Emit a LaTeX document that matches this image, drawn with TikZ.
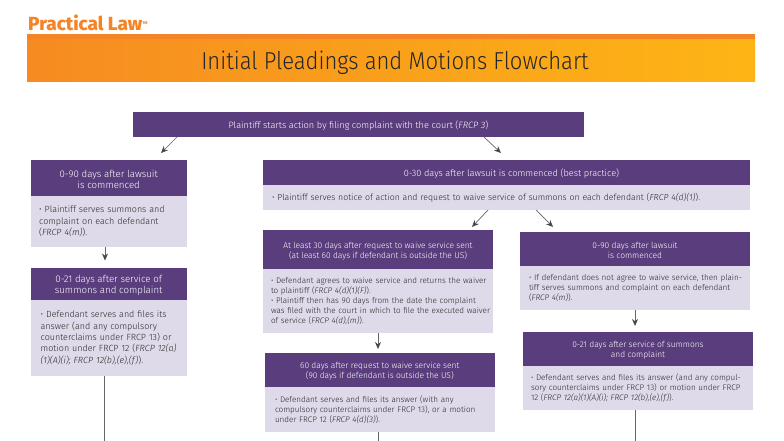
\documentclass[tikz,border=0pt]{standalone}
\usepackage{fontspec}
\setmainfont{Fira Sans}[UprightFont=* Light,ItalicFont=* Light Italic,BoldFont=* ExtraBold]
\newfontfamily\titlefont{Fira Sans Light}[FakeStretch=0.9]
\definecolor{plum}{HTML}{5A3D7D}
\definecolor{lilac}{HTML}{DEDAE9}
\definecolor{orangeL}{HTML}{F68B21}
\definecolor{orangeR}{HTML}{FDB515}
\definecolor{stripe}{HTML}{F58426}
\definecolor{ink}{HTML}{262626}
\definecolor{conn}{HTML}{666666}
\newcommand{\tl}[1]{\mbox{#1}}
\newcommand{\hs}{\rule{0pt}{9.5pt}}
\usetikzlibrary{arrows.meta}
\tikzset{
  x=1pt,y=-1pt,
  headbox/.style={fill=plum,text=white,anchor=north west,align=center,inner sep=0pt,outer sep=0pt},
  bodybox/.style={fill=lilac,text=ink,anchor=north west,align=left,inner ysep=0pt,outer sep=0pt},
  smallt/.style={font=\fontsize{8.4}{10}\selectfont},
  bodyt/.style={font=\fontsize{8.1}{10}\selectfont},
  widet/.style={font=\fontsize{9.2}{11}\selectfont},
  bigt/.style={font=\fontsize{8.95}{11.4}\selectfont},
  bighead/.style={font=\fontsize{9.7}{11}\selectfont},
  arrowline/.style={draw=conn,line width=0.7pt,-{Stealth[length=7pt,width=6pt,color=ink!85!white]}},
  plainline/.style={draw=conn,line width=0.9pt},
}
\begin{document}
\begin{tikzpicture}
\useasboundingbox (0,0) rectangle (784,441);
% header
\node[anchor=west,inner sep=0pt,text=stripe,font=\fontsize{19}{19}\selectfont\bfseries] (logo) at (28,23) {Practical Law\raisebox{6pt}{\fontsize{4}{4}\selectfont TM}};
\node[anchor=north west,minimum width=728pt,minimum height=47pt,inner sep=0pt,left color=orangeL,right color=orangeR] (banner) at (27,34) {};
\fill[stripe] (27,34) rectangle (755,39.5);
\node[text=ink,inner sep=0pt,font=\fontsize{24.5}{26}\titlefont] (title) at (395,63) {Initial Pleadings and Motions Flowchart};
% top
\node[headbox,widet,minimum width=451pt,minimum height=25pt] (start) at (133,112) {\hs Plaintiff starts action by filing complaint with the court (\textit{FRCP 3})};
% left column
\node[headbox,bighead,minimum width=156pt,minimum height=36pt] (ah) at (30.7,160) {\hs 0-90 days after lawsuit\\is commenced};
\node[bodybox,bigt,inner xsep=8.5pt,text width=139pt,minimum height=51pt] (ab) at (30.7,196) {\tl{\textbullet\ Plaintiff serves summons and}\\\tl{complaint on each defendant}\\\tl{(\textit{FRCP 4(m)}).}};
\node[headbox,bighead,minimum width=156pt,minimum height=32pt] (bh) at (30.7,268) {\hs 0-21 days after service of\\summons and complaint};
\node[bodybox,bigt,inner xsep=10pt,text width=136pt,minimum height=76pt] (bb) at (30.7,300) {\tl{\textbullet\ Defendant serves and files its}\\\tl{answer (and any compulsory}\\\tl{counterclaims under FRCP 13) or}\\\tl{motion under FRCP 12 (\textit{FRCP 12(a)}}\\\tl{\textit{(1)(A)(i); FRCP 12(b),(e),(f)}).}};
% wide middle
\node[headbox,widet,minimum width=487pt,minimum height=25pt] (ch) at (263,160) {\hs\hspace{10pt}0-30 days after lawsuit is commenced (best practice)};
\node[bodybox,font=\fontsize{8.7}{10}\selectfont,inner xsep=9pt,text width=469pt,minimum height=25pt] (cb) at (263,185) {\tl{\textbullet\ Plaintiff serves notice of action and request to waive service of summons on each defendant (\textit{FRCP 4(d)(1)}).}};
% middle column
\node[headbox,smallt,minimum width=230pt,minimum height=39pt] (dh) at (263,230) {\hs At least 30 days after request to waive service sent\\(at least 60 days if defendant is outside the US)};
\node[bodybox,bodyt,inner xsep=8pt,text width=214pt,minimum height=64pt] (db) at (263,269) {\tl{\textbullet\ Defendant agrees to waive service and returns the waiver}\\\tl{to plaintiff (\textit{FRCP 4(d)(1)(F)}).}\\\tl{\textbullet\ Plaintiff then has 90 days from the date the complaint}\\\tl{was filed with the court in which to file the executed waiver}\\\tl{of service (\textit{FRCP 4(d),(m)}).}};
\node[headbox,smallt,minimum width=230.5pt,minimum height=34pt] (eh) at (264.5,353) {\hs 60 days after request to waive service sent\\(90 days if defendant is outside the US)};
\node[bodybox,bodyt,inner xsep=10.5pt,text width=209.5pt,minimum height=45pt] (eb) at (264.5,387) {\tl{\textbullet\ Defendant serves and files its answer (with any}\\\tl{compulsory counterclaims under FRCP 13), or a motion}\\\tl{under FRCP 12 (\textit{FRCP 4(d)(3)}).}};
% right column
\node[headbox,smallt,minimum width=230pt,minimum height=34pt] (fh) at (520,232) {\hs 0-90 days after lawsuit\\is commenced};
\node[bodybox,bodyt,inner xsep=9pt,text width=212pt,minimum height=44pt] (fb) at (520,266) {\tl{\textbullet\ If defendant does not agree to waive service, then plain-}\\\tl{tiff serves summons and complaint on each defendant}\\\tl{(\textit{FRCP 4(m)}).}};
\node[headbox,smallt,minimum width=230pt,minimum height=34pt] (gh) at (523,332) {\hs 0-21 days after service of summons\\and complaint};
\node[bodybox,bodyt,inner xsep=8pt,text width=214pt,minimum height=44pt] (gb) at (523,366) {\tl{\textbullet\ Defendant serves and files its answer (and any compul-}\\\tl{sory counterclaims under FRCP 13) or motion under FRCP}\\\tl{12 (\textit{FRCP 12(a)(1)(A)(i); FRCP 12(b),(e),(f)}).}};
% connector end points
\coordinate (s1) at (177,137); \coordinate (t1) at (161,153);
\coordinate (s2) at (484,137); \coordinate (t2) at (501,153);
\coordinate (s3) at (488,210); \coordinate (t3) at (472,227);
\coordinate (s4) at (536,210); \coordinate (t4) at (553,227);
\coordinate (s5) at (105,247); \coordinate (t5) at (105,260.5);
\coordinate (s6) at (378,333); \coordinate (t6) at (378,349);
\coordinate (s7) at (635,310); \coordinate (t7) at (635,326);
\coordinate (s8) at (104.5,376); \coordinate (t8) at (104.5,441);
\coordinate (s9) at (378,432); \coordinate (t9) at (378,441);
\coordinate (s10) at (635.5,410); \coordinate (t10) at (635.5,441);
\draw[arrowline] (s1) -- (t1);
\draw[arrowline] (s2) -- (t2);
\draw[arrowline] (s3) -- (t3);
\draw[arrowline] (s4) -- (t4);
\draw[arrowline] (s5) -- (t5);
\draw[arrowline] (s6) -- (t6);
\draw[arrowline] (s7) -- (t7);
\draw[plainline] (s8) -- (t8);
\draw[plainline] (s9) -- (t9);
\draw[plainline] (s10) -- (t10);
\end{tikzpicture}
\end{document}
